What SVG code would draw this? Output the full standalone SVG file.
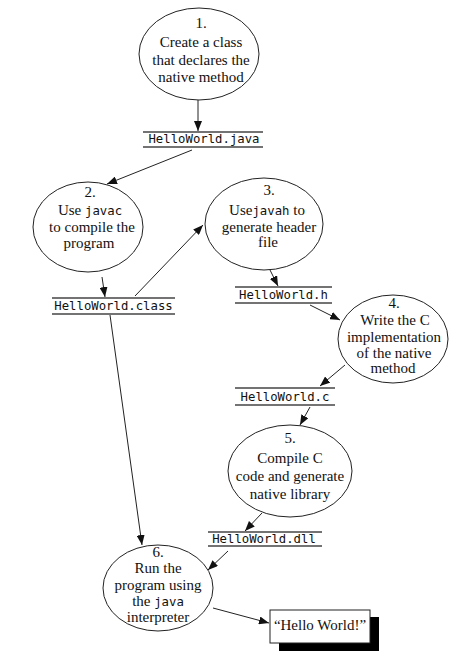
<svg xmlns="http://www.w3.org/2000/svg" width="474" height="651" viewBox="0 0 474 651">
<style>
.bg{fill:#fff}
.node ellipse{fill:#fff;stroke:#222;stroke-width:1}
.t{font-family:"Liberation Serif","Times New Roman",serif;font-size:15px;fill:#111;text-anchor:middle}
.m{font-family:"DejaVu Sans Mono","Liberation Mono",monospace;font-size:12.3px}
.lbl text{font-family:"DejaVu Sans Mono","Liberation Mono",monospace;font-size:12.3px;fill:#111;text-anchor:middle}
.lbl line{stroke:#444;stroke-width:1.5}
.conn line{stroke:#222;stroke-width:1;marker-end:url(#ah)}
</style>
<defs>
<marker id="ah" markerUnits="userSpaceOnUse" markerWidth="10" markerHeight="8" refX="10" refY="4" orient="auto">
<path d="M0,0 L10,4 L0,8 z" fill="#111"/>
</marker>
</defs>
<rect class="bg" x="0" y="0" width="474" height="651"/>

<g id="n1" class="node">
<ellipse cx="199" cy="54" rx="60" ry="46"/>
<text class="t" x="201" y="28">1.</text>
<text class="t" x="201" y="47">Create a class</text>
<text class="t" x="201" y="65">that declares the</text>
<text class="t" x="201" y="82">native method</text>
</g>

<g id="l-java" class="lbl">
<line x1="143" y1="132" x2="263" y2="132"/>
<line x1="143" y1="147" x2="263" y2="147"/>
<text x="204" y="143">HelloWorld.java</text>
</g>

<g id="n2" class="node">
<ellipse cx="88" cy="227" rx="55" ry="45"/>
<text class="t" x="90" y="197">2.</text>
<text class="t" x="90" y="215">Use <tspan class="m">javac</tspan></text>
<text class="t" x="92" y="232">to compile the</text>
<text class="t" x="89" y="248">program</text>
</g>

<g id="l-class" class="lbl">
<line x1="52" y1="298" x2="175" y2="298"/>
<line x1="52" y1="314" x2="175" y2="314"/>
<text x="113.5" y="310">HelloWorld.class</text>
</g>

<g id="n3" class="node">
<ellipse cx="264" cy="224" rx="59" ry="46"/>
<text class="t" x="269" y="195">3.</text>
<text class="t" x="267" y="215">Use<tspan class="m">javah</tspan> to</text>
<text class="t" x="269" y="232">generate header</text>
<text class="t" x="268" y="247">file</text>
</g>

<g id="l-h" class="lbl">
<line x1="235" y1="287" x2="332" y2="287"/>
<line x1="235" y1="303" x2="332" y2="303"/>
<text x="283.5" y="299">HelloWorld.h</text>
</g>

<g id="n4" class="node">
<ellipse cx="393" cy="339" rx="55" ry="44"/>
<text class="t" x="394" y="308">4.</text>
<text class="t" x="395" y="325">Write the C</text>
<text class="t" x="394" y="342">implementation</text>
<text class="t" x="394" y="358">of the native</text>
<text class="t" x="393" y="373">method</text>
</g>

<g id="l-c" class="lbl">
<line x1="235" y1="388" x2="335" y2="388"/>
<line x1="235" y1="405" x2="335" y2="405"/>
<text x="285" y="401">HelloWorld.c</text>
</g>

<g id="n5" class="node">
<ellipse cx="290" cy="471" rx="62" ry="46"/>
<text class="t" x="290" y="443">5.</text>
<text class="t" x="290" y="463">Compile C</text>
<text class="t" x="290" y="481">code and generate</text>
<text class="t" x="290" y="499">native library</text>
</g>

<g id="l-dll" class="lbl">
<line x1="208" y1="532" x2="322" y2="532"/>
<line x1="208" y1="546" x2="322" y2="546"/>
<text x="264" y="543">HelloWorld.dll</text>
</g>

<g id="n6" class="node">
<ellipse cx="158" cy="588" rx="55" ry="43"/>
<text class="t" x="158" y="557">6.</text>
<text class="t" x="158" y="573">Run the</text>
<text class="t" x="158" y="590">program using</text>
<text class="t" x="158" y="606">the <tspan class="m">java</tspan></text>
<text class="t" x="158" y="622">interpreter</text>
</g>

<g id="out">
<rect x="279" y="617" width="100" height="40" fill="#000"/>
<rect x="270" y="610" width="100" height="33" fill="#fff" stroke="#222" stroke-width="1"/>
<text class="t" x="320" y="630">“Hello World!”</text>
</g>

<g id="connectors" class="conn">
<line x1="198" y1="100" x2="198" y2="131"/>
<line x1="192" y1="150" x2="107" y2="184"/>
<line x1="102" y1="277" x2="105" y2="297"/>
<line x1="135" y1="296" x2="203" y2="225"/>
<line x1="270" y1="270" x2="278" y2="286"/>
<line x1="310" y1="305" x2="340" y2="320"/>
<line x1="345" y1="365" x2="320" y2="386"/>
<line x1="310" y1="407" x2="300" y2="425"/>
<line x1="262" y1="513" x2="245" y2="531"/>
<line x1="228" y1="551" x2="208" y2="570"/>
<line x1="110" y1="315" x2="142" y2="545"/>
<line x1="213" y1="608" x2="269" y2="623"/>
</g>
</svg>
